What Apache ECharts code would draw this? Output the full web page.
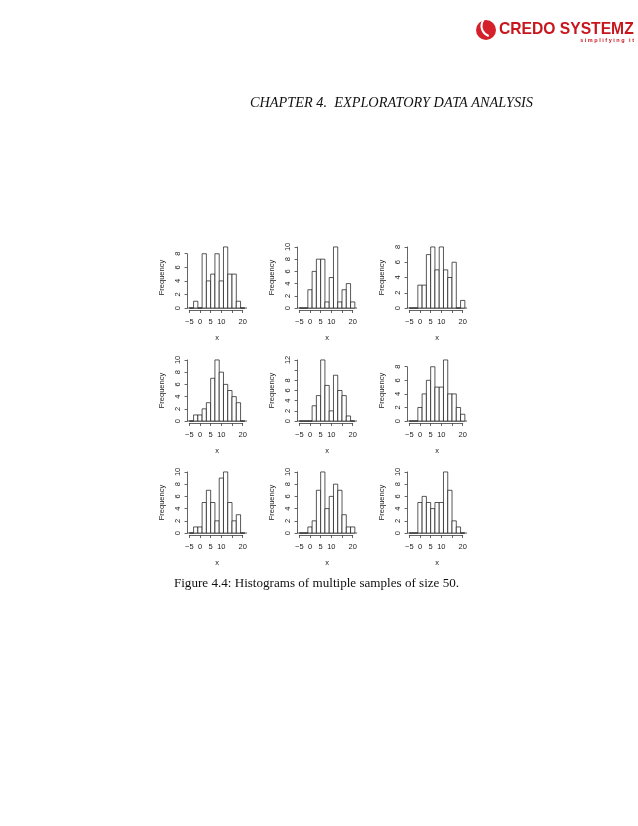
<!DOCTYPE html>
<html>
<head>
<meta charset="utf-8">
<script src="https://cdn.jsdelivr.net/npm/echarts@6/dist/echarts.min.js"></script>
<style>
html,body{margin:0;padding:0;background:#fff;}
#chart{width:638px;height:826px;}
</style>
</head>
<body>
<div id="chart"></div>
<script>
// ---- data ----
const breaks = [-5, -3, -1, 1, 3, 5, 7, 9, 11, 13, 15, 17, 19, 21];
const counts1 = [0, 1, 0, 8, 4, 5, 8, 4, 9, 5, 5, 1, 0];
const counts2 = [0, 0, 3, 6, 8, 8, 1, 5, 10, 1, 3, 4, 1];
const counts3 = [0, 0, 3, 3, 7, 8, 5, 8, 5, 4, 6, 0, 1];
const counts4 = [0, 1, 1, 2, 3, 7, 10, 8, 6, 5, 4, 3, 0];
const counts5 = [0, 0, 0, 3, 5, 12, 7, 2, 9, 6, 5, 1, 0];
const counts6 = [0, 0, 2, 4, 6, 8, 5, 5, 9, 4, 4, 2, 1];
const counts7 = [0, 1, 1, 5, 7, 5, 2, 9, 10, 5, 2, 3, 0];
const counts8 = [0, 0, 1, 2, 7, 10, 4, 6, 8, 7, 3, 1, 1];
const counts9 = [0, 0, 5, 6, 5, 4, 5, 5, 10, 7, 2, 1, 0];
const panels = [counts1, counts2, counts3, counts4, counts5, counts6, counts7, counts8, counts9];
const xTicks = [-5, 0, 5, 10, 15, 20];
const xTickLabels = ['\u22125', '0', '5', '10', '', '20'];
const yTickMax = [8, 10, 8, 10, 12, 8, 10, 10, 10];
const yHiddenLabels = [[], [], [], [], [10], [], [], [], []];
const xName = 'x';
const yName = 'Frequency';
const titleText = 'CHAPTER 4.  EXPLORATORY DATA ANALYSIS';
const captionText = 'Figure 4.4: Histograms of multiple samples of size 50.';

// ---- layout ----
const FONT = 'Liberation Sans, Arial, sans-serif';
const PX_PER_UNIT = 2.136;
const XLO = breaks[0] - 0.04 * (breaks[breaks.length - 1] - breaks[0]);
const XHI = breaks[breaks.length - 1] + 0.04 * (breaks[breaks.length - 1] - breaks[0]);
const X_AT_M5 = 189.3;          // pixel of x=-5 in first column
const COL_DX = 110;
const ROW_TOP = [244.5, 357.5, 469.5];
const PLOT_H = 66;
const plotLeft0 = X_AT_M5 + (XLO - xTicks[0]) * PX_PER_UNIT;
const plotW = (XHI - XLO) * PX_PER_UNIT;

const grids = [], xAxes = [], yAxes = [], series = [];
const AX = '#222';

panels.forEach((counts, i) => {
  const col = i % 3, row = Math.floor(i / 3);
  const M = Math.max(...counts);
  const ylo = -0.04 * M, yhi = 1.04 * M;
  const top = ROW_TOP[row];
  const left = plotLeft0 + col * COL_DX;
  const pxU = PLOT_H / (yhi - ylo);
  const y0px = top + yhi * pxU;
  const gi = grids.length;

  // plot region
  grids.push({left: left, top: top, width: plotW, height: PLOT_H});
  xAxes.push({gridIndex: gi, type: 'value', min: XLO, max: XHI,
    axisLine: {show: false}, axisTick: {show: false}, axisLabel: {show: false}, splitLine: {show: false},
    name: xName, nameLocation: 'middle', nameGap: 23.5,
    nameTextStyle: {fontFamily: FONT, fontSize: 7.5, color: AX}});
  yAxes.push({gridIndex: gi, type: 'value', min: ylo, max: yhi,
    axisLine: {show: false}, axisTick: {show: false}, axisLabel: {show: false}, splitLine: {show: false},
    name: yName, nameLocation: 'middle', nameGap: 21.5, nameRotate: 90,
    nameTextStyle: {fontFamily: FONT, fontSize: 7.5, color: AX}});

  const data = counts.map((c, k) => [breaks[k], breaks[k + 1], c]);
  series.push({
    type: 'custom', xAxisIndex: gi, yAxisIndex: gi, data: data, silent: true,
    renderItem: function (params, api) {
      const a = api.coord([api.value(0), api.value(2)]);
      const b = api.coord([api.value(1), 0]);
      return {type: 'rect',
        shape: {x: a[0], y: a[1], width: b[0] - a[0], height: b[1] - a[1]},
        style: {fill: '#fff', stroke: '#111', lineWidth: 0.7}};
    }
  });
  series.push({type: 'line', xAxisIndex: gi, yAxisIndex: gi, silent: true,
    data: [[XLO, 0], [XHI, 0]], symbol: 'none',
    lineStyle: {color: '#111', width: 0.7}, z: 1});

  // x axis (R style: line from first to last tick)
  const gx = grids.length;
  grids.push({left: X_AT_M5 + col * COL_DX, top: top + PLOT_H - 1, width: (xTicks[xTicks.length - 1] - xTicks[0]) * PX_PER_UNIT, height: 1});
  xAxes.push({gridIndex: gx, type: 'value', min: xTicks[0], max: xTicks[xTicks.length - 1], interval: 5,
    axisLine: {show: true, lineStyle: {color: AX, width: 0.7}},
    axisTick: {show: true, length: 2.5, lineStyle: {color: AX, width: 0.7}},
    axisLabel: {show: true, fontFamily: FONT, fontSize: 7.5, color: AX, margin: 7,
      formatter: v => { const k = xTicks.indexOf(v); return k >= 0 ? xTickLabels[k] : ''; }},
    splitLine: {show: false}});
  yAxes.push({gridIndex: gx, type: 'value', min: 0, max: 1, show: false});

  // y axis (R style: line from 0 to max tick)
  const gy = grids.length;
  const tmax = yTickMax[i];
  grids.push({left: left, top: y0px - tmax * pxU, width: 1, height: tmax * pxU});
  xAxes.push({gridIndex: gy, type: 'value', min: 0, max: 1, show: false});
  yAxes.push({gridIndex: gy, type: 'value', min: 0, max: tmax, interval: 2,
    axisLine: {show: true, lineStyle: {color: AX, width: 0.7}},
    axisTick: {show: true, length: 2.5, lineStyle: {color: AX, width: 0.7}},
    axisLabel: {show: true, fontFamily: FONT, fontSize: 7.5, color: AX, rotate: 90, margin: 5,
      formatter: v => yHiddenLabels[i].indexOf(v) >= 0 ? '' : String(v)},
    splitLine: {show: false}});
});

const chart = echarts.init(document.getElementById('chart'), null, {renderer: 'canvas'});
chart.setOption({
  backgroundColor: '#fff',
  animation: false,
  grid: grids, xAxis: xAxes, yAxis: yAxes, series: series,
  graphic: [
    {type: 'circle', shape: {cx: 486, cy: 30, r: 10}, style: {fill: '#d3202a'}},
    {type: 'arc', shape: {cx: 492, cy: 26, r: 10.5, startAngle: Math.PI * 0.6, endAngle: Math.PI * 1.2}, style: {stroke: '#fff', lineWidth: 2, fill: null}},
    {type: 'text', x: 499, y: 29, scaleX: 0.92, style: {text: 'CREDO SYSTEMZ', fontFamily: FONT, fontWeight: 'bold', fontSize: 17, fill: '#c8161e', verticalAlign: 'middle', align: 'left'}},
    {type: 'text', x: 634, y: 40.5, style: {text: 's i m p l i f y i n g   i t', fontFamily: FONT, fontWeight: 'bold', fontSize: 5.5, fill: '#c8161e', verticalAlign: 'middle', align: 'right'}},
    {type: 'text', x: 391.5, y: 103, style: {text: titleText, fontFamily: 'Liberation Serif, DejaVu Serif, serif', fontStyle: 'italic', fontSize: 14.3, fill: '#111', align: 'center', verticalAlign: 'middle'}},
    {type: 'text', x: 316.5, y: 584, style: {text: captionText, fontFamily: 'Liberation Serif, DejaVu Serif, serif', fontSize: 13.1, fill: '#111', align: 'center', verticalAlign: 'middle'}}
  ]
});
</script>
</body>
</html>
